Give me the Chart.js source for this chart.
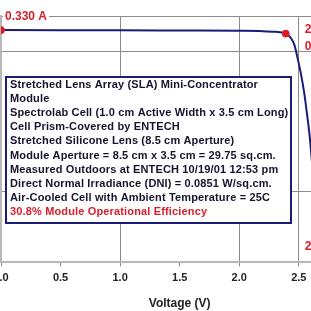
<!DOCTYPE html>
<html>
<head>
<meta charset="utf-8">
<script src="https://cdn.jsdelivr.net/npm/chart.js@4.4.0/dist/chart.umd.min.js"></script>
<style>
  html, body { margin: 0; padding: 0; background: #fff; overflow: hidden; }
  #wrap { position: absolute; left: -40px; top: 0; width: 411px; height: 311px; }
</style>
</head>
<body>
<div id="wrap"><canvas id="ivChart"></canvas></div>
<script>
// I-V curve
const voltage = [0, 0.5, 1.0, 1.5, 2.0, 2.2, 2.3, 2.39, 2.435, 2.463, 2.49, 2.52, 2.548, 2.568, 2.591, 2.613, 2.625, 2.64, 2.652, 2.66];
const current = [0.330, 0.3298, 0.3296, 0.3293, 0.329, 0.3285, 0.3275, 0.325, 0.3184, 0.309, 0.290, 0.266, 0.238, 0.212, 0.180, 0.137, 0.108, 0.070, 0.035, 0];

// Isc, max power point, Voc
const markerV = [0, 2.39, 2.66];
const markerI = [0.330, 0.325, 0];

const xTickStep = 0.5;
const xGridValues = [1.0, 2.0, 2.5, 3.0];
const yGridValues = [0.1, 0.3, 0.35];

const iscLabel = "0.330 A";
const mppLabels = ["2.39 V", "0.326 A"];
const vocLabel = "2.66 V";

const boxLines = [
  "Stretched Lens Array (SLA) Mini-Concentrator",
  "Module",
  "Spectrolab Cell (1.0 cm Active Width x 3.5 cm Long)",
  "Cell Prism-Covered by ENTECH",
  "Stretched Silicone Lens (8.5 cm Aperture)",
  "Module Aperture = 8.5 cm x 3.5 cm = 29.75 sq.cm.",
  "Measured Outdoors at ENTECH 10/19/01 12:53 pm",
  "Direct Normal Irradiance (DNI) = 0.0851 W/sq.cm.",
  "Air-Cooled Cell with Ambient Temperature = 25C",
];
const efficiencyLine = "30.8% Module Operational Efficiency";

const RED = "#d81e2a";
const NAVY = "#1b1b78";
const GRID = "#8c8c8c";
const FONT = "Arial, 'Liberation Sans', sans-serif";

const onGrid = (list, v) => list.some((g) => Math.abs(g - v) < 1e-6);

const notes = {
  id: "notes",
  afterDraw(chart) {
    const { ctx, chartArea, scales } = chart;
    const x = scales.x, y = scales.y;
    ctx.save();

    // info box
    const bx = chartArea.left + 5, by = chartArea.top + 61;
    const bw = 285, bh = 146;
    ctx.fillStyle = "#fff";
    ctx.fillRect(bx, by, bw, bh);
    ctx.strokeStyle = NAVY;
    ctx.lineWidth = 2;
    ctx.strokeRect(bx, by, bw, bh);

    ctx.font = "bold 11px " + FONT;
    ctx.letterSpacing = "0.15px";
    ctx.textBaseline = "middle";
    ctx.textAlign = "left";
    ctx.fillStyle = "#14142e";
    boxLines.forEach((t, i) => ctx.fillText(t, bx + 4, by + 8 + i * 14.1));
    ctx.fillStyle = RED;
    ctx.fillText(efficiencyLine, bx + 4, by + 8 + boxLines.length * 14.1);
    ctx.letterSpacing = "0px";

    // point labels
    ctx.font = "bold 12px " + FONT;
    const ix = x.getPixelForValue(markerV[0]);
    const iy = chartArea.top + 1;
    const w = ctx.measureText(iscLabel).width;
    ctx.fillStyle = "#fff";
    ctx.fillRect(ix + 2, iy - 7, w + 4, 14);
    ctx.fillStyle = RED;
    ctx.fillText(iscLabel, ix + 4, iy);

    const mx = x.getPixelForValue(markerV[1]), my = y.getPixelForValue(markerI[1]);
    ctx.fillText(mppLabels[0], mx + 19, my - 4);
    ctx.fillText(mppLabels[1], mx + 19, my + 13);

    const vx = x.getPixelForValue(markerV[2]);
    ctx.fillText(vocLabel, vx - 13, chartArea.bottom - 16);
    ctx.restore();
  }
};

new Chart(document.getElementById("ivChart"), {
  type: "scatter",
  data: {
    datasets: [
      {
        data: markerV.map((v, i) => ({ x: v, y: markerI[i] })),
        pointRadius: 3.5,
        pointBackgroundColor: RED,
        pointBorderColor: RED,
        showLine: false,
        order: 0,
      },
      {
        data: voltage.map((v, i) => ({ x: v, y: current[i] })),
        showLine: true,
        borderColor: NAVY,
        borderWidth: 2,
        pointRadius: 0,
        cubicInterpolationMode: "monotone",
        order: 1,
      },
    ],
  },
  options: {
    responsive: true,
    maintainAspectRatio: false,
    animation: false,
    layout: { padding: { left: 41, right: 12, top: 16, bottom: 0 } },
    plugins: { legend: { display: false }, tooltip: { enabled: false } },
    scales: {
      x: {
        type: "linear",
        min: 0,
        max: 3,
        ticks: {
          stepSize: xTickStep,
          color: "#222",
          font: { family: FONT, size: 11, weight: "bold" },
          padding: 5,
          callback: (v) => v.toFixed(1),
        },
        grid: {
          color: (c) => (c.tick && onGrid(xGridValues, c.tick.value) ? GRID : "rgba(0,0,0,0)"),
          tickColor: GRID,
          tickLength: 4,
          lineWidth: 1,
        },
        border: { color: "#b8b8b8", width: 2 },
        title: {
          display: true,
          text: "Voltage (V)",
          color: "#222",
          font: { family: FONT, size: 12, weight: "bold" },
          padding: { top: 7, bottom: 0 },
        },
      },
      y: {
        min: 0,
        max: 0.35,
        ticks: { display: false, stepSize: 0.1 },
        grid: {
          color: (c) => (c.tick && onGrid(yGridValues, c.tick.value) ? GRID : "rgba(0,0,0,0)"),
          drawTicks: false,
          lineWidth: 1,
        },
        border: { color: "#b8b8b8", width: 2 },
      },
    },
  },
  plugins: [notes],
});
</script>
</body>
</html>
